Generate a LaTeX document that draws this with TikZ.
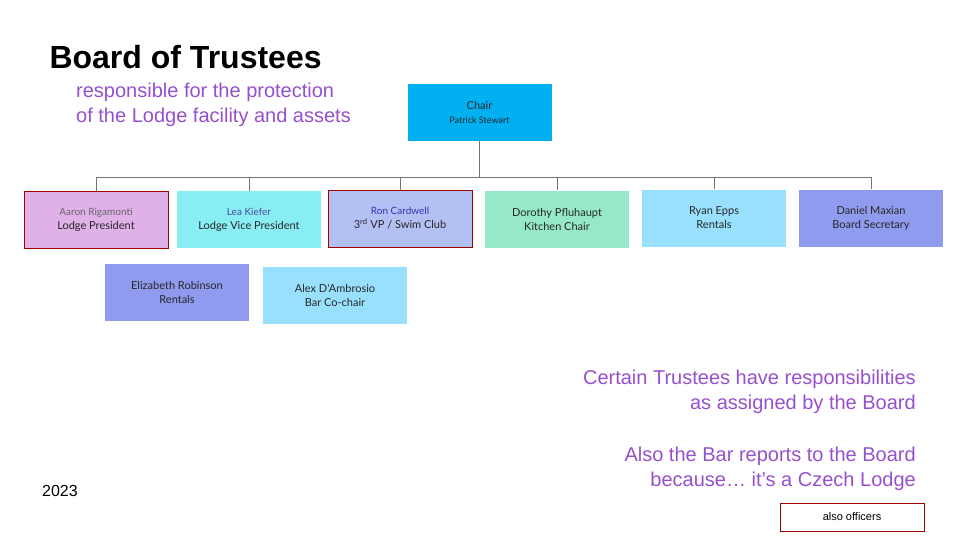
\documentclass[tikz,border=0pt]{standalone}
\usepackage{fontspec}
\setmainfont{Liberation Sans}
\newfontfamily\boxfont{Lato}
\usetikzlibrary{positioning}
\definecolor{chairblue}{HTML}{00B0F0}
\definecolor{orchid}{HTML}{E0B0E8}
\definecolor{aqua}{HTML}{88EEF4}
\definecolor{periwinkle}{HTML}{B3C0F4}
\definecolor{mint}{HTML}{96E9C8}
\definecolor{sky}{HTML}{99E0FF}
\definecolor{lavender}{HTML}{8F9BEE}
\definecolor{officer}{HTML}{A00000}
\definecolor{note}{HTML}{9650CC}
\newcommand{\who}{\fontsize{10}{12}\selectfont}
\tikzset{
  member/.style={minimum width=144pt, minimum height=57pt, inner sep=0pt,
    align=center, font=\boxfont\fontsize{11}{14}\selectfont, text=black!85},
  officer/.style={draw=officer, line width=0.9pt},
  link/.style={draw=black!55, line width=0.7pt},
}
\begin{document}
\begin{tikzpicture}[x=1pt, y=-1pt]
\useasboundingbox (0,0) rectangle (960,540);

\node[anchor=west, font=\bfseries\fontsize{32}{36}\selectfont] (title) at (46,57) {Board of Trustees};
\node[anchor=north west, text=note, align=left, font=\fontsize{20}{25}\selectfont, inner sep=0pt] (scope) at (76,83)
  {responsible for the protection\\of the Lodge facility and assets};

\node[member, fill=chairblue] (chair) at (479.5,112.5) {Chair\\{\fontsize{9}{12}\selectfont Patrick Stewart}};

% first row of trustees
\node[member, fill=orchid, officer] (aaron) at (96,219.5) {{\who\color{black!60}Aaron Rigamonti}\\Lodge President};
\node[member, fill=aqua] (lea) at (249,219.5) {{\who\color{blue!45!black!70}Lea Kiefer}\\Lodge Vice President};
\node[member, fill=periwinkle, officer] (ron) at (400,218.5) {{\who\color{blue!60!black!80}Ron Cardwell}\\3\textsuperscript{rd} VP / Swim Club};
\node[member, fill=mint] (dorothy) at (557,219) {Dorothy Pfluhaupt\\Kitchen Chair};
\node[member, fill=sky] (ryan) at (714,218) {Ryan Epps\\Rentals};
\node[member, fill=lavender] (daniel) at (871,218) {Daniel Maxian\\Board Secretary};

% second row
\node[member, fill=lavender] (elizabeth) at (177,292) {Elizabeth Robinson\\Rentals};
\node[member, fill=sky] (alex) at (335,295.5) {Alex D'Ambrosio\\Bar Co-chair};

\foreach \n in {aaron,lea,ron,dorothy,ryan,daniel}
  \draw[link] (chair.south) -- ++(0,36) -| (\n.north);

\node[anchor=north east, text=note, align=right, font=\fontsize{20}{25}\selectfont, inner sep=0pt] (duty) at (916,370)
  {Certain Trustees have responsibilities\\as assigned by the Board};
\node[anchor=north east, text=note, align=right, font=\fontsize{20}{25}\selectfont, inner sep=0pt] (bar) at (916,447)
  {Also the Bar reports to the Board\\because\dots\ it's a Czech Lodge};

\node[anchor=west, font=\fontsize{16}{18}\selectfont, inner sep=0pt] (year) at (42,491) {2023};
\node[draw=officer, line width=0.9pt, minimum width=144pt, minimum height=28pt, inner sep=0pt,
  font=\fontsize{11}{13}\selectfont] (legend) at (852,517) {also officers};
\end{tikzpicture}
\end{document}
